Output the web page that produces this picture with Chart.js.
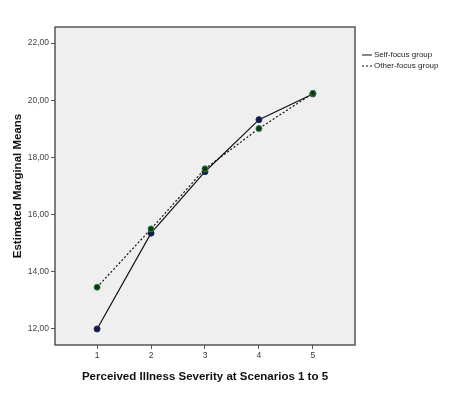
<!DOCTYPE html>
<html>
<head>
<meta charset="utf-8">
<script src="https://cdn.jsdelivr.net/npm/chart.js@4/dist/chart.umd.min.js"></script>
<style>
  html,body{margin:0;padding:0;background:#fff;}
  #wrap{position:relative;width:474px;height:414px;}
</style>
</head>
<body>
<div id="wrap"><canvas id="c" width="474" height="414"></canvas></div>
<script>
// scenarios on x, estimated marginal means on y
const scenarios = [1, 2, 3, 4, 5];
const selfFocus  = [12.00, 15.35, 17.50, 19.32, 20.22];
const otherFocus = [13.46, 15.50, 17.60, 19.01, 20.24];
const yTicks = [12, 14, 16, 18, 20, 22];
const seriesNames = ["Self-focus group", "Other-focus group"];

const FONT = "'Liberation Sans', Arial, sans-serif";

// grey plot panel with a dark frame, like SPSS output
const panel = {
  id: "panel",
  beforeDraw(ch){
    const a = ch.chartArea, g = ch.ctx;
    g.save();
    g.fillStyle = "#efefef";
    g.fillRect(a.left, a.top, a.right-a.left, a.bottom-a.top);
    g.restore();
  },
  afterDraw(ch){
    const a = ch.chartArea, g = ch.ctx;
    g.save();
    g.strokeStyle = "#555";
    g.lineWidth = 1.5;
    g.strokeRect(a.left, a.top, a.right-a.left, a.bottom-a.top);
    // legend to the right of the panel
    g.font = "8px " + FONT;
    g.textBaseline = "middle";
    ch.data.datasets.forEach((ds, i) => {
      const y = a.top + 28 + i*11;
      const x0 = a.right + 7;
      g.strokeStyle = "#111";
      g.lineWidth = 1;
      g.setLineDash(ds.borderDash || []);
      g.beginPath(); g.moveTo(x0, y); g.lineTo(x0+10, y); g.stroke();
      g.setLineDash([]);
      g.fillStyle = "#222";
      g.fillText(ds.label, x0+12, y);
    });
    g.restore();
  }
};

new Chart(document.getElementById("c"), {
  type: "line",
  data: {
    datasets: [
      {label: seriesNames[0], data: scenarios.map((x,i)=>({x, y: selfFocus[i]})), order:1,
       borderColor:"#111", borderWidth:1.2, pointRadius:3, pointBackgroundColor:"#141a40",
       pointBorderColor:"#1d2a5a", pointBorderWidth:1},
      {label: seriesNames[1], data: scenarios.map((x,i)=>({x, y: otherFocus[i]})), order:0,
       borderColor:"#111", borderWidth:1.2, borderDash:[2,2], pointRadius:3, pointBackgroundColor:"#123318",
       pointBorderColor:"#2f8a3a", pointBorderWidth:1}
    ]
  },
  options: {
    responsive:false, animation:false,
    layout:{padding:{top:27, right:119, bottom:0, left:0}},
    plugins:{legend:{display:false}, tooltip:{enabled:false}},
    scales:{
      x:{type:"linear", min:0.22, max:5.78,
         afterBuildTicks: s => { s.ticks = scenarios.map(v=>({value:v})); },
         afterFit: s => { s.height = 69; },
         grid:{drawOnChartArea:false, tickLength:4, color:"#555"},
         border:{display:false},
         ticks:{color:"#333", font:{family:FONT, size:8.5}, padding:2, callback:v=>String(v)},
         title:{display:true, text:"Perceived Illness Severity at Scenarios 1 to 5", color:"#111",
                font:{family:FONT, size:11.5, weight:"bold"}, padding:{top:0, bottom:30}}},
      y:{type:"linear", min:11.44, max:22.56,
         afterBuildTicks: s => { s.ticks = yTicks.map(v=>({value:v})); },
         afterFit: s => { s.width = 55; },
         grid:{drawOnChartArea:false, tickLength:4, color:"#555"},
         border:{display:false},
         ticks:{color:"#444", font:{family:FONT, size:8.5}, padding:2, callback:v=>v.toFixed(2).replace(".", ",")},
         title:{display:true, text:"Estimated Marginal Means", color:"#111",
                font:{family:FONT, size:11.5, weight:"bold"}, padding:{top:11, bottom:11}}}
    }
  },
  plugins:[panel]
});
</script>
</body>
</html>
